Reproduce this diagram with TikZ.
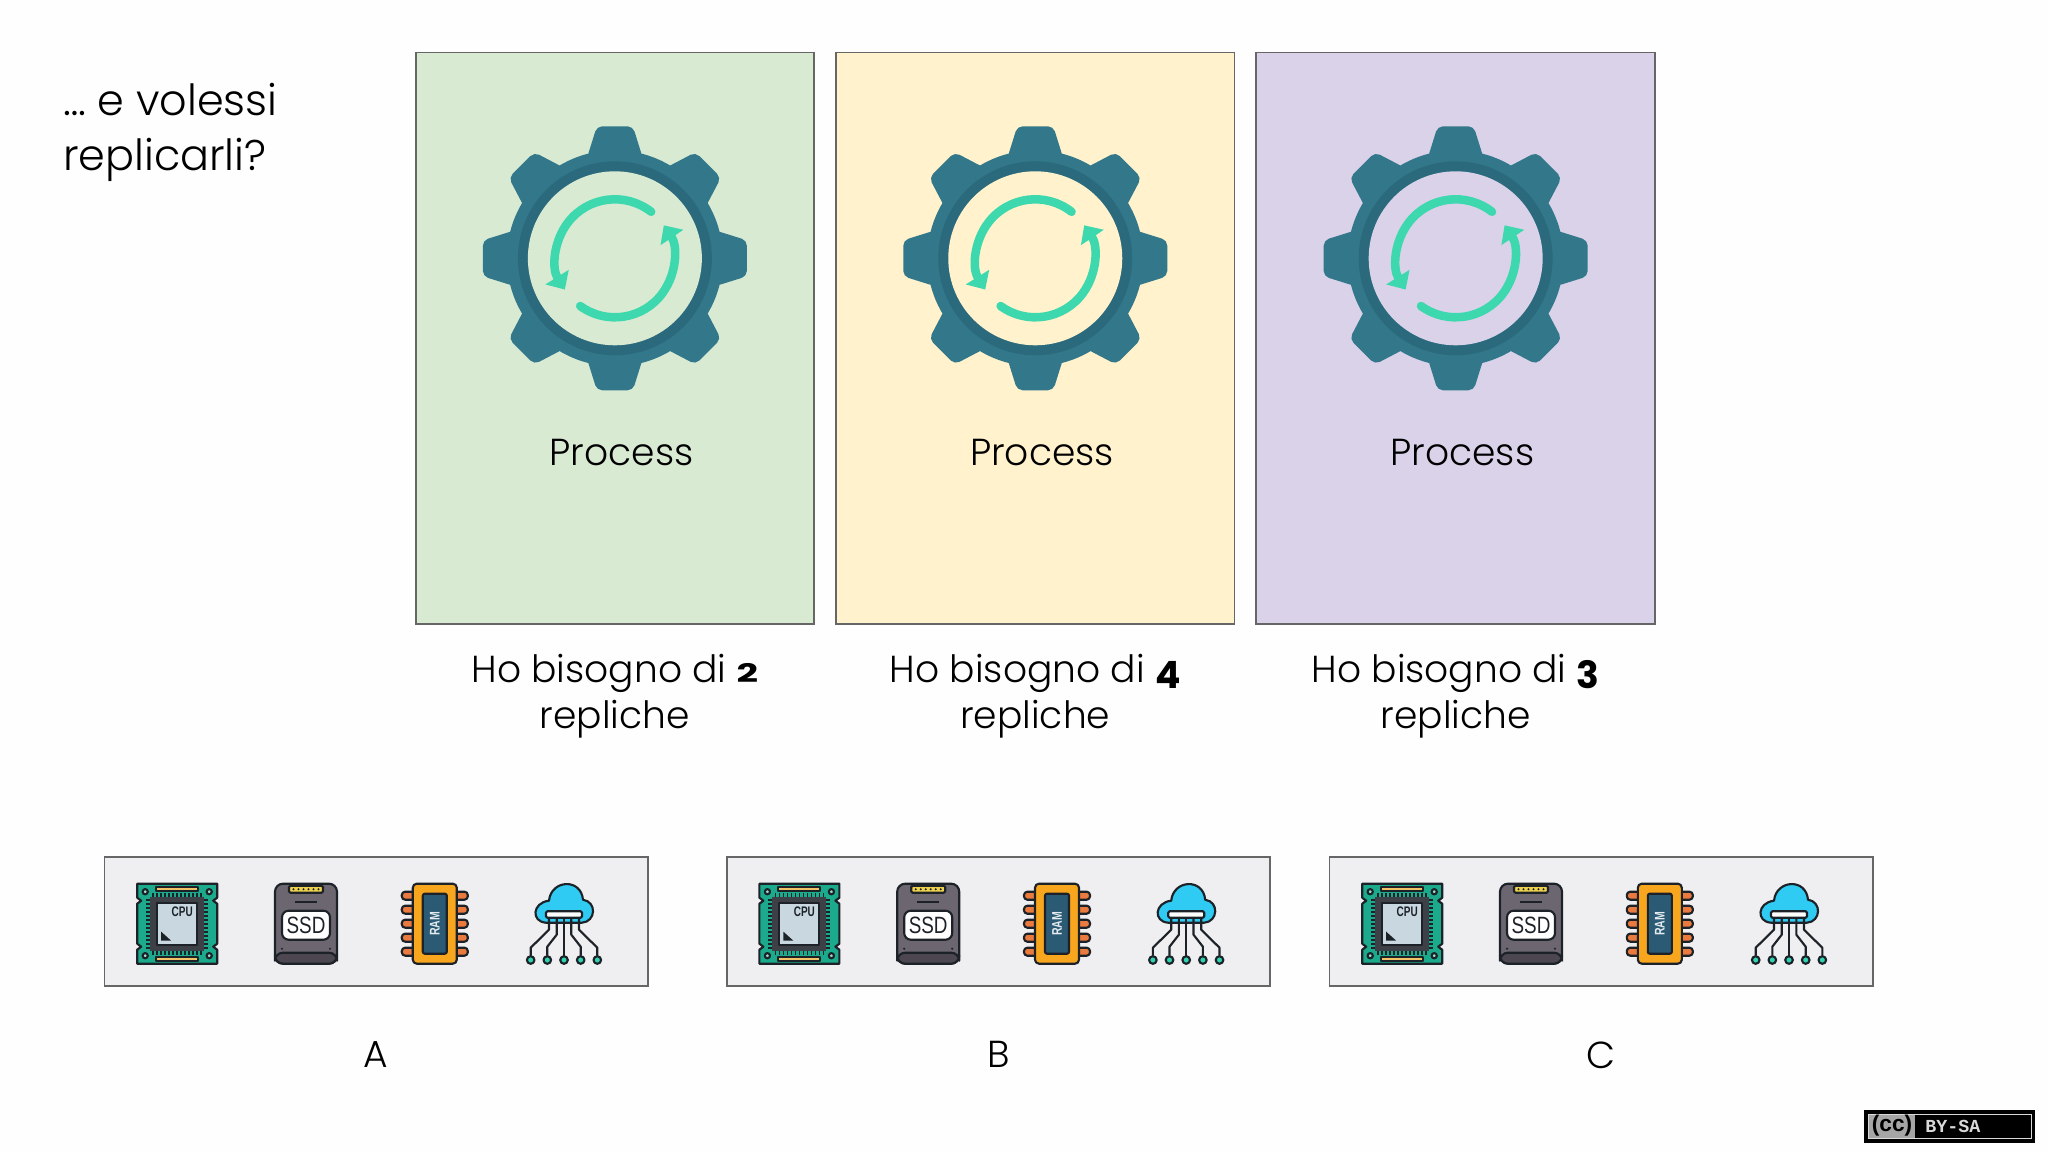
\documentclass[tikz,border=0pt]{standalone}
\usepackage{fontspec}
\setmainfont{Poppins}[UprightFont=* Light,BoldFont=* Bold]
\newfontfamily\iconfont{Liberation Sans}
\newfontfamily\badgefont{Liberation Mono}
\usepackage[dvipsnames]{xcolor}
\usetikzlibrary{positioning, arrows.meta}

\definecolor{panelgreen}{HTML}{D9EAD3}
\definecolor{panelyellow}{HTML}{FFF2CC}
\definecolor{panelpurple}{HTML}{D9D2E9}
\definecolor{rackgrey}{HTML}{EFEFF1}
\definecolor{edgegrey}{HTML}{666666}
\definecolor{gearmain}{HTML}{33788A}
\definecolor{geardark}{HTML}{2A6A7C}
\definecolor{spinmint}{HTML}{3DD8AE}
\definecolor{inkdark}{HTML}{1D2228}
\definecolor{pcbgreen}{HTML}{1BAA8C}
\definecolor{stripgold}{HTML}{F3C466}
\definecolor{chipgrey}{HTML}{3E4048}
\definecolor{diesilver}{HTML}{C9D8E0}
\definecolor{ssdgrey}{HTML}{6C6670}
\definecolor{ssddark}{HTML}{4C4750}
\definecolor{ssdyellow}{HTML}{EFD24E}
\definecolor{ramorange}{HTML}{F9A61F}
\definecolor{rampin}{HTML}{EA7A3E}
\definecolor{ramblue}{HTML}{2A5A74}
\definecolor{cloudblue}{HTML}{2FCBF3}
\definecolor{dotmint}{HTML}{2ED3B0}

% old-style bold digit: vertical scale, then drop below the baseline
\newcommand{\repcount}[3]{\raisebox{#3}{\scalebox{1}[#2]{\textbf{#1}}}}

\tikzset{
    x=0.75pt, y=0.75pt,
    node distance=16.4pt,
    procbox/.style={rectangle, draw=edgegrey, line width=1.4pt, outer sep=0pt, minimum width=298.9pt, minimum height=428.6pt},
    rackbox/.style={rectangle, draw=edgegrey, fill=rackgrey, line width=1.4pt, outer sep=0pt, minimum width=407.6pt, minimum height=96.8pt},
    bodytext/.style={font=\fontsize{28.2}{34.5}\selectfont, align=center, text=black},
    titletext/.style={font=\fontsize{32.2}{41}\selectfont, align=left, text=black},
    iconline/.style={draw=inkdark, line width=1.6pt, line join=round},
    spinarrow/.style={draw=spinmint, line width=6.4pt, line cap=round, -{Triangle[length=11pt,width=20pt]}},
    pics/gear/.style={code={
        \foreach \a in {0,45,...,315}
            \fill[gearmain, rotate=\a, rounded corners=4pt] (100,-28) -- (132,-18) -- (132,18) -- (100,28) -- cycle;
        \fill[gearmain] (0,0) circle (108);
        \fill[geardark] (0,0) circle (97);
        \fill[#1] (0,0) circle (87);
        \draw[spinarrow] (52:59) arc (52:212:59);
        \draw[spinarrow] (234:59) arc (234:394:59);
    }},
    pics/cpu/.style={code={
        \path[iconline, fill=pcbgreen] (-40,40) -- (40,40) -- (40,26) -- (36,23) -- (40,20) -- (40,-20) -- (36,-23) -- (40,-26)
            -- (40,-40) -- (-40,-40) -- (-40,-26) -- (-36,-23) -- (-40,-20) -- (-40,20) -- (-36,23) -- (-40,26) -- cycle;
        \path[iconline, fill=stripgold] (-21,37) rectangle (21,33);
        \path[iconline, fill=stripgold] (-21,-33) rectangle (21,-37);
        \foreach \hx/\hy in {-32/32, 32/32, -32/-32, 32/-32}
            \path[iconline, fill=pcbgreen!40] (\hx,\hy) circle (2.6);
        \foreach \t in {-24,-20,...,24} {
            \draw[inkdark, line width=1.3pt] (\t,-31) -- (\t,31);
            \draw[inkdark, line width=1.3pt] (-31,\t) -- (31,\t);
        }
        \fill[chipgrey] (-27,-27) rectangle (27,27);
        \path[iconline, fill=diesilver] (-20,-21) rectangle (20,21);
        \node[inner sep=0pt, xscale=.72, text=inkdark, font=\iconfont\bfseries\fontsize{10.4}{11}\selectfont] (cpulabel) at (5,12) {CPU};
        \fill[inkdark] (-16,-8) -- (-6,-17) -- (-16,-17) -- cycle;
    }},
    pics/ssd/.style={code={
        \path[iconline, fill=ssdgrey, rounded corners=6pt] (-31,-40) rectangle (31,40);
        \path[iconline, fill=ssddark, rounded corners=6pt] (-31,-40) -- (-31,-29) -- (31,-29) -- (31,-40) -- cycle;
        \path[iconline, fill=ssdyellow, rounded corners=1pt] (-17,38) rectangle (17,31);
        \foreach \d in {-12.5,-7.5,...,12.5}
            \fill[inkdark] (\d,34.5) circle (1.1);
        \draw[inkdark, line width=1.2pt] (-11,22) -- (11,22);
        \path[iconline, fill=white, rounded corners=5pt] (-24,13) rectangle (24,-16);
        \node[inner sep=0pt, xscale=.8, text=inkdark, font=\iconfont\fontsize{17.7}{18}\selectfont] (ssdlabel) at (0,-1.5) {SSD};
        \fill[inkdark] (-24,-25) circle (1.2) (24,-25) circle (1.2);
    }},
    pics/ram/.style={code={
        \foreach \py in {-28,-14,0,14,28} {
            \path[iconline, fill=rampin, rounded corners=2.5pt] (-33,\py-4) rectangle (33,\py+4);
        }
        \path[iconline, fill=ramorange, rounded corners=3pt] (-22,-40) rectangle (22,40);
        \path[iconline, fill=ramblue, rounded corners=1.5pt] (-12,-30) rectangle (12,30);
        \node[inner sep=0pt, rotate=90, xscale=.75, text=white!88!ramblue, font=\iconfont\bfseries\fontsize{10.5}{11}\selectfont] (ramlabel) at (0,0) {RAM};
    }},
    pics/cloud/.style={code={
        \path[iconline, fill=cloudblue] (-18,1) .. controls (-33,2) and (-32,21) .. (-15,23)
            .. controls (-13,44) and (17,46) .. (19,24) .. controls (33,22) and (32,2) .. (18,1) -- cycle;
        \draw[iconline] (-15,6) -- (-15,-6) -- (-33.3,-24) -- (-33.3,-32);
        \draw[iconline] (-7.3,6) -- (-7.3,-11) -- (-16.7,-23) -- (-16.7,-32);
        \draw[iconline] (0,6) -- (0,-32);
        \draw[iconline] (7.3,6) -- (7.3,-11) -- (16.7,-23) -- (16.7,-32);
        \draw[iconline] (15,6) -- (15,-6) -- (33.3,-24) -- (33.3,-32);
        \path[iconline, fill=white, rounded corners=1pt] (-18,12.5) rectangle (18,6);
        \foreach \dx in {-33.3,-16.7,0,16.7,33.3}
            \path[iconline, fill=dotmint] (\dx,-36.3) circle (3.8);
    }},
    pics/rack/.style={code={
        \node[rackbox] (panel) at (0,0) {};
        \pic at (-199,-2.2) {cpu};
        \pic at (-70.2,-2.2) {ssd};
        \pic at (58.6,-2.2) {ram};
        \pic at (187.8,-2.2) {cloud};
    }}
}

\begin{document}
\begin{tikzpicture}

    \useasboundingbox (0,0) rectangle (2048,-1152);
    \fill[white!99.5!black] (0,0) rectangle (2048,-1152);

    % Title
    \node (title) [titletext, anchor=north west, inner sep=0pt] at (63,-83) {\ldots\ e volessi\\replicarli?};

    % Process panels
    \node (procA) [procbox, fill=panelgreen, anchor=north west] at (415.6,-52.5) {};
    \node (procB) [procbox, fill=panelyellow, right=of procA] {};
    \node (procC) [procbox, fill=panelpurple, right=of procB] {};

    % Gears
    \pic at (procA.center |- 0,-258.3) {gear=panelgreen};
    \pic at (procB.center |- 0,-258.3) {gear=panelyellow};
    \pic at (procC.center |- 0,-258.3) {gear=panelpurple};

    % Process names
    \node (nameA) [bodytext] at ([xshift=5pt]procA.center |- 0,-453) {Process};
    \node (nameB) [bodytext] at ([xshift=5pt]procB.center |- 0,-453) {Process};
    \node (nameC) [bodytext] at ([xshift=5pt]procC.center |- 0,-453) {Process};

    % Replica counts
    \node (needA) [bodytext, below=19pt of procA] {Ho bisogno di \repcount{2}{0.68}{0pt}\\repliche};
    \node (needB) [bodytext, below=19pt of procB] {Ho bisogno di \repcount{4}{1}{-5pt}\\repliche};
    \node (needC) [bodytext, below=19pt of procC] {Ho bisogno di \repcount{3}{1}{-5pt}\\repliche};

    % Machines
    \pic (rackA-) at (376.2,-921.5) {rack};
    \pic (rackB-) at (998.4,-921.5) {rack};
    \pic (rackC-) at (1601.2,-921.5) {rack};

    \node (machA) [bodytext, below=38pt of rackA-panel] {A};
    \node (machB) [bodytext, below=38pt of rackB-panel] {B};
    \node (machC) [bodytext, below=38pt of rackC-panel] {C};

    % Licence badge
    \node (badge) [rectangle, fill=black, draw=black, outer sep=0pt, minimum width=128pt, minimum height=24pt, anchor=north west] at (1864,-1110) {};
    \fill[black!35] (1868,-1114) rectangle (1915,-1138);
    \draw[white!85!black, line width=0.7pt] (1868,-1114) rectangle (2031,-1138);
    \node (badgecc) [inner sep=0pt, text=black, font=\iconfont\bfseries\fontsize{17}{17}\selectfont] at (1892,-1126) {(cc)};
    \node (badgeby) [inner sep=0pt, text=white!85!black, font=\badgefont\bfseries\fontsize{13.75}{14}\selectfont, anchor=west] at (1925,-1126) {BY-SA};

\end{tikzpicture}
\end{document}
